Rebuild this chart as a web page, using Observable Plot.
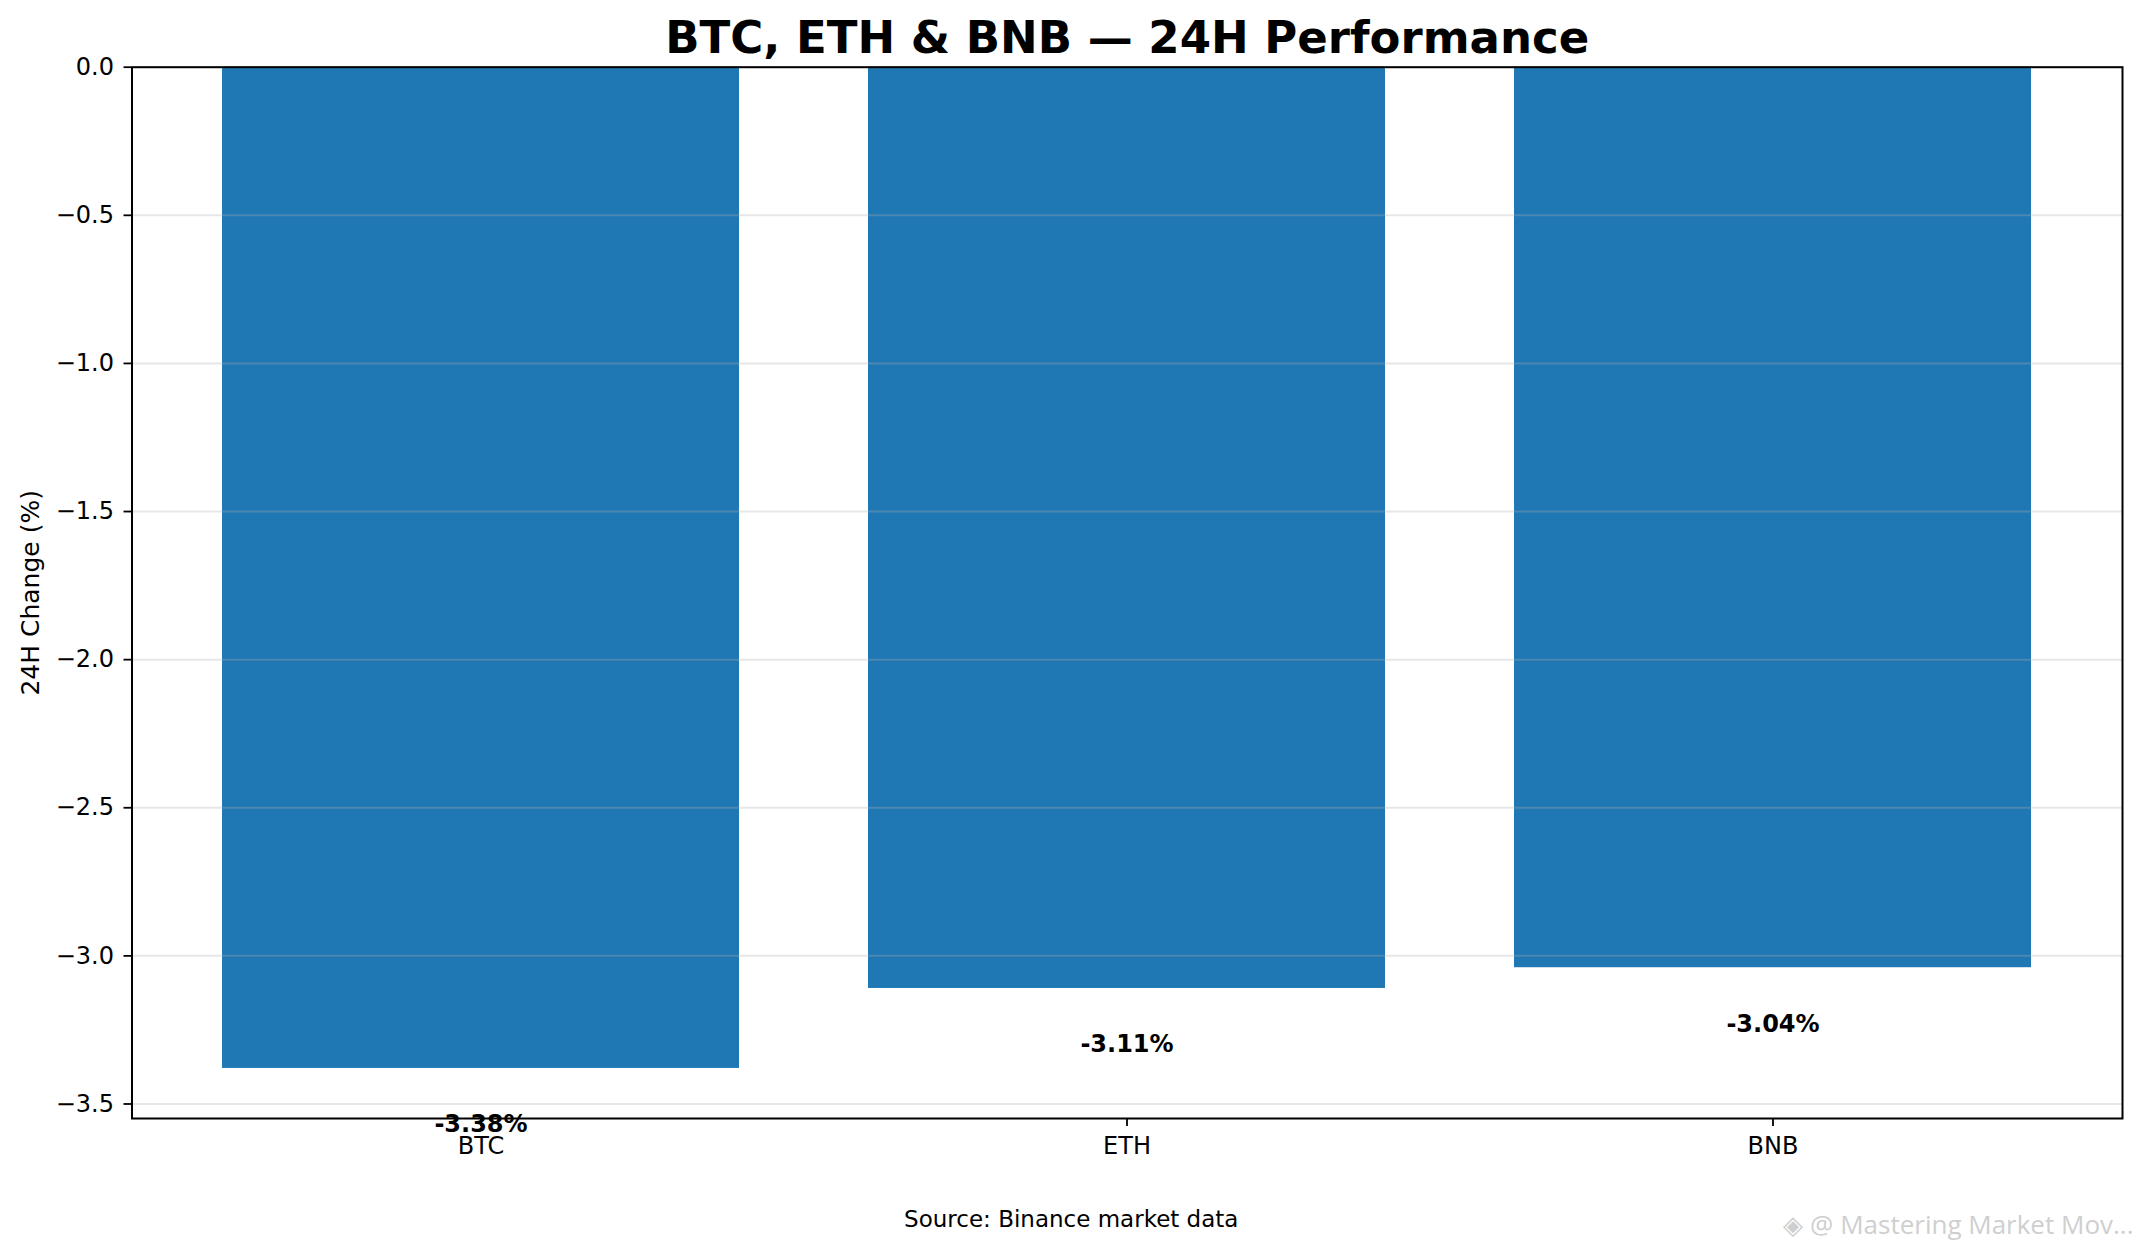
<!DOCTYPE html>
<html>
<head>
<meta charset="utf-8">
<script src="https://cdn.jsdelivr.net/npm/d3@7"></script>
<script src="https://cdn.jsdelivr.net/npm/@observablehq/plot@0.6"></script>
<style>
  html, body { margin: 0; padding: 0; background: #fff; overflow: hidden; }
  svg { display: block; }
</style>
</head>
<body>
<div id="chart"></div>
<script>
const coins = ["BTC", "ETH", "BNB"];
const changes = [-3.38, -3.11, -3.04];
const yTicks = [0, -0.5, -1.0, -1.5, -2.0, -2.5, -3.0, -3.5];
const titleText = "BTC, ETH & BNB \u2014 24H Performance";
const yLabelText = "24H Change (%)";
const captionText = "Source: Binance market data";
const watermarkText = "\u25C8 @ Mastering Market Mov...";

const data = coins.map((c, i) => ({coin: c, change: changes[i], label: changes[i].toFixed(2) + "%"}));
const yMin = d3.min(changes) * 1.05;

const W = 2141, H = 1249;
const mL = 131.5, mR = 19, mT = 66.7, mB = 131;

const chart = Plot.plot({
  width: W,
  height: H,
  marginLeft: mL,
  marginRight: mR,
  marginTop: mT,
  marginBottom: mB,
  style: {fontFamily: "DejaVu Sans", fontSize: "24px", background: "#fff", color: "#000"},
  x: {type: "band", domain: coins, paddingInner: 0.2, paddingOuter: 0.14, label: null},
  y: {domain: [yMin, 0], label: null},
  marks: [
    Plot.barY(data, {x: "coin", y: "change", fill: "#1f77b4"}),
    Plot.gridY(yTicks, {stroke: "#b0b0b0", strokeOpacity: 0.3, strokeWidth: 2}),
    Plot.frame({stroke: "#000", strokeWidth: 2}),
    Plot.axisX({tickSize: 8, tickPadding: 10, strokeWidth: 1.8, label: null, fontSize: 24}),
    Plot.axisY({ticks: yTicks, tickFormat: d3.format(".1f"), tickSize: 8, tickPadding: 10, strokeWidth: 1.8, label: null, fontSize: 24}),
    Plot.text(data, {x: "coin", y: "change", text: "label", dy: 64, lineAnchor: "bottom", fontWeight: "bold", fontSize: 24, fill: "#000"}),
    Plot.text([titleText], {frameAnchor: "top", text: d => d, dy: -13.7, lineAnchor: "bottom", fontWeight: "bold", fontSize: 45, fill: "#000"}),
    Plot.text([yLabelText], {frameAnchor: "left", text: d => d, rotate: -90, dx: -101.5, lineAnchor: "middle", textAnchor: "middle", fontSize: 25, fill: "#000"}),
    Plot.text([captionText], {frameAnchor: "bottom", text: d => d, dx: -56, dy: 108, lineAnchor: "bottom", fontSize: 23, fill: "#000"}),
    Plot.text([watermarkText], {frameAnchor: "bottom-right", text: d => d, dx: 11, dy: 115, textAnchor: "end", lineAnchor: "bottom", fontSize: 26, fontFamily: "Open Sans", fill: "#cfcfcf"})
  ]
});
document.getElementById("chart").appendChild(chart);
</script>
</body>
</html>
